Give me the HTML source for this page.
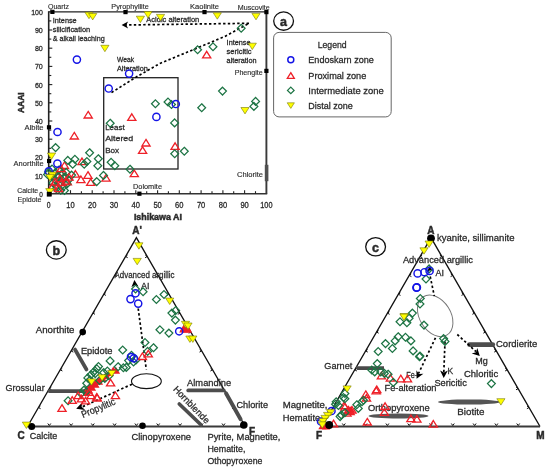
<!DOCTYPE html>
<html><head><meta charset="utf-8"><title>Alteration diagrams</title>
<style>
html,body{margin:0;padding:0;background:#fff;width:550px;height:470px;overflow:hidden}
svg{display:block}
text{font-family:"Liberation Sans", Arial, sans-serif;fill:#2a2a2a;stroke:#2a2a2a;stroke-width:0.28px}
.ci{fill:none;stroke:#1414e6;stroke-width:1.45}
.tr{fill:none;stroke:#ee2028;stroke-width:1.3;stroke-linejoin:miter}
.di{fill:none;stroke:#1d7444;stroke-width:1.25}
.yt{fill:#ffff00;stroke:#77770a;stroke-width:0.6}
</style></head>
<body>
<svg width="550" height="470" viewBox="0 0 550 470">
<rect width="550" height="470" fill="#fff"/>
<line x1="48.7" y1="11.8" x2="266.4" y2="11.8" stroke="#222" stroke-width="1.3" />
<line x1="266.4" y1="11.8" x2="266.4" y2="193.8" stroke="#3a3a3a" stroke-width="1.9" />
<line x1="48.7" y1="11.2" x2="48.7" y2="194.4" stroke="#222" stroke-width="1.6" />
<line x1="48.1" y1="193.8" x2="267.2" y2="193.8" stroke="#333" stroke-width="1.6" />
<line x1="48.7" y1="184.7" x2="51.3" y2="184.7" stroke="#222" stroke-width="1.1" />
<line x1="59.6" y1="193.8" x2="59.6" y2="191.2" stroke="#222" stroke-width="1.1" />
<line x1="48.7" y1="175.6" x2="52.3" y2="175.6" stroke="#222" stroke-width="1.1" />
<line x1="70.5" y1="193.8" x2="70.5" y2="190.2" stroke="#222" stroke-width="1.1" />
<line x1="48.7" y1="166.5" x2="51.3" y2="166.5" stroke="#222" stroke-width="1.1" />
<line x1="81.4" y1="193.8" x2="81.4" y2="191.2" stroke="#222" stroke-width="1.1" />
<line x1="48.7" y1="157.4" x2="52.3" y2="157.4" stroke="#222" stroke-width="1.1" />
<line x1="92.2" y1="193.8" x2="92.2" y2="190.2" stroke="#222" stroke-width="1.1" />
<line x1="48.7" y1="148.3" x2="51.3" y2="148.3" stroke="#222" stroke-width="1.1" />
<line x1="103.1" y1="193.8" x2="103.1" y2="191.2" stroke="#222" stroke-width="1.1" />
<line x1="48.7" y1="139.2" x2="52.3" y2="139.2" stroke="#222" stroke-width="1.1" />
<line x1="114.0" y1="193.8" x2="114.0" y2="190.2" stroke="#222" stroke-width="1.1" />
<line x1="48.7" y1="130.1" x2="51.3" y2="130.1" stroke="#222" stroke-width="1.1" />
<line x1="124.9" y1="193.8" x2="124.9" y2="191.2" stroke="#222" stroke-width="1.1" />
<line x1="48.7" y1="121.0" x2="52.3" y2="121.0" stroke="#222" stroke-width="1.1" />
<line x1="135.8" y1="193.8" x2="135.8" y2="190.2" stroke="#222" stroke-width="1.1" />
<line x1="48.7" y1="111.9" x2="51.3" y2="111.9" stroke="#222" stroke-width="1.1" />
<line x1="146.7" y1="193.8" x2="146.7" y2="191.2" stroke="#222" stroke-width="1.1" />
<line x1="48.7" y1="102.8" x2="52.3" y2="102.8" stroke="#222" stroke-width="1.1" />
<line x1="157.6" y1="193.8" x2="157.6" y2="190.2" stroke="#222" stroke-width="1.1" />
<line x1="48.7" y1="93.7" x2="51.3" y2="93.7" stroke="#222" stroke-width="1.1" />
<line x1="168.4" y1="193.8" x2="168.4" y2="191.2" stroke="#222" stroke-width="1.1" />
<line x1="48.7" y1="84.6" x2="52.3" y2="84.6" stroke="#222" stroke-width="1.1" />
<line x1="179.3" y1="193.8" x2="179.3" y2="190.2" stroke="#222" stroke-width="1.1" />
<line x1="48.7" y1="75.5" x2="51.3" y2="75.5" stroke="#222" stroke-width="1.1" />
<line x1="190.2" y1="193.8" x2="190.2" y2="191.2" stroke="#222" stroke-width="1.1" />
<line x1="48.7" y1="66.4" x2="52.3" y2="66.4" stroke="#222" stroke-width="1.1" />
<line x1="201.1" y1="193.8" x2="201.1" y2="190.2" stroke="#222" stroke-width="1.1" />
<line x1="48.7" y1="57.3" x2="51.3" y2="57.3" stroke="#222" stroke-width="1.1" />
<line x1="212.0" y1="193.8" x2="212.0" y2="191.2" stroke="#222" stroke-width="1.1" />
<line x1="48.7" y1="48.2" x2="52.3" y2="48.2" stroke="#222" stroke-width="1.1" />
<line x1="222.9" y1="193.8" x2="222.9" y2="190.2" stroke="#222" stroke-width="1.1" />
<line x1="48.7" y1="39.1" x2="51.3" y2="39.1" stroke="#222" stroke-width="1.1" />
<line x1="233.7" y1="193.8" x2="233.7" y2="191.2" stroke="#222" stroke-width="1.1" />
<line x1="48.7" y1="30.0" x2="52.3" y2="30.0" stroke="#222" stroke-width="1.1" />
<line x1="244.6" y1="193.8" x2="244.6" y2="190.2" stroke="#222" stroke-width="1.1" />
<line x1="48.7" y1="20.9" x2="51.3" y2="20.9" stroke="#222" stroke-width="1.1" />
<line x1="255.5" y1="193.8" x2="255.5" y2="191.2" stroke="#222" stroke-width="1.1" />
<text x="42.8" y="196.8" font-size="8.0" text-anchor="end" textLength="3.6" lengthAdjust="spacingAndGlyphs">0</text>
<text x="48.7" y="207.5" font-size="8.2" text-anchor="middle" textLength="3.8" lengthAdjust="spacingAndGlyphs">0</text>
<text x="42.8" y="178.6" font-size="8.0" text-anchor="end" textLength="7.9" lengthAdjust="spacingAndGlyphs">10</text>
<text x="70.5" y="207.5" font-size="8.2" text-anchor="middle" textLength="8.4" lengthAdjust="spacingAndGlyphs">10</text>
<text x="42.8" y="160.4" font-size="8.0" text-anchor="end" textLength="7.9" lengthAdjust="spacingAndGlyphs">20</text>
<text x="92.2" y="207.5" font-size="8.2" text-anchor="middle" textLength="8.4" lengthAdjust="spacingAndGlyphs">20</text>
<text x="42.8" y="142.2" font-size="8.0" text-anchor="end" textLength="7.9" lengthAdjust="spacingAndGlyphs">30</text>
<text x="114.0" y="207.5" font-size="8.2" text-anchor="middle" textLength="8.4" lengthAdjust="spacingAndGlyphs">30</text>
<text x="42.8" y="124.0" font-size="8.0" text-anchor="end" textLength="7.9" lengthAdjust="spacingAndGlyphs">40</text>
<text x="135.8" y="207.5" font-size="8.2" text-anchor="middle" textLength="8.4" lengthAdjust="spacingAndGlyphs">40</text>
<text x="42.8" y="105.8" font-size="8.0" text-anchor="end" textLength="7.9" lengthAdjust="spacingAndGlyphs">50</text>
<text x="157.6" y="207.5" font-size="8.2" text-anchor="middle" textLength="8.4" lengthAdjust="spacingAndGlyphs">50</text>
<text x="42.8" y="87.6" font-size="8.0" text-anchor="end" textLength="7.9" lengthAdjust="spacingAndGlyphs">60</text>
<text x="179.3" y="207.5" font-size="8.2" text-anchor="middle" textLength="8.4" lengthAdjust="spacingAndGlyphs">60</text>
<text x="42.8" y="69.4" font-size="8.0" text-anchor="end" textLength="7.9" lengthAdjust="spacingAndGlyphs">70</text>
<text x="201.1" y="207.5" font-size="8.2" text-anchor="middle" textLength="8.4" lengthAdjust="spacingAndGlyphs">70</text>
<text x="42.8" y="51.2" font-size="8.0" text-anchor="end" textLength="7.9" lengthAdjust="spacingAndGlyphs">80</text>
<text x="222.9" y="207.5" font-size="8.2" text-anchor="middle" textLength="8.4" lengthAdjust="spacingAndGlyphs">80</text>
<text x="42.8" y="33.0" font-size="8.0" text-anchor="end" textLength="7.9" lengthAdjust="spacingAndGlyphs">90</text>
<text x="244.6" y="207.5" font-size="8.2" text-anchor="middle" textLength="8.4" lengthAdjust="spacingAndGlyphs">90</text>
<text x="42.8" y="14.8" font-size="8.0" text-anchor="end" textLength="11.6" lengthAdjust="spacingAndGlyphs">100</text>
<text x="266.4" y="207.5" font-size="8.2" text-anchor="middle" textLength="12.2" lengthAdjust="spacingAndGlyphs">100</text>
<text x="157.9" y="219.7" font-size="8.6" text-anchor="middle" font-weight="bold" style="stroke-width:0.45px" textLength="48.0" lengthAdjust="spacingAndGlyphs" fill="#111">Ishikawa AI</text>
<text x="21.2" y="105.6" font-size="8.6" text-anchor="middle" font-weight="bold" style="stroke-width:0.45px" textLength="20.8" lengthAdjust="spacingAndGlyphs" transform="rotate(-90 21.2 102.7)" fill="#111">AAAI</text>
<rect x="50.3" y="9.8" width="4.2" height="4.2" fill="#000"/>
<rect x="123.4" y="10.0" width="4.2" height="4.2" fill="#000"/>
<rect x="202.4" y="10.0" width="4.2" height="4.2" fill="#000"/>
<rect x="264.3" y="10.0" width="4.2" height="4.2" fill="#000"/>
<rect x="264.3" y="68.8" width="4.2" height="4.2" fill="#000"/>
<rect x="46.9" y="125.2" width="4.2" height="4.2" fill="#000"/>
<rect x="47.0" y="158.9" width="4.2" height="4.2" fill="#000"/>
<rect x="47.2" y="191.8" width="4.2" height="4.2" fill="#000"/>
<rect x="137.3" y="191.6" width="4.2" height="4.2" fill="#000"/>
<line x1="266.6" y1="164.8" x2="266.6" y2="181.2" stroke="#505050" stroke-width="3.6" />
<text x="48.0" y="8.5" font-size="6.3" style="stroke-width:0.12px" textLength="21.0" lengthAdjust="spacingAndGlyphs">Quartz</text>
<text x="111.3" y="8.5" font-size="6.3" style="stroke-width:0.12px" textLength="37.5" lengthAdjust="spacingAndGlyphs">Pyrophyllite</text>
<text x="190.0" y="8.7" font-size="6.3" style="stroke-width:0.12px" textLength="29.0" lengthAdjust="spacingAndGlyphs">Kaolinite</text>
<text x="237.8" y="9.5" font-size="6.3" style="stroke-width:0.12px" textLength="32.0" lengthAdjust="spacingAndGlyphs">Muscovite</text>
<text x="262.7" y="75.1" font-size="6.3" style="stroke-width:0.12px" text-anchor="end" textLength="28.0" lengthAdjust="spacingAndGlyphs">Phengite</text>
<text x="43.6" y="130.1" font-size="6.3" style="stroke-width:0.12px" text-anchor="end" textLength="19.0" lengthAdjust="spacingAndGlyphs">Albite</text>
<text x="43.6" y="166.1" font-size="6.3" style="stroke-width:0.12px" text-anchor="end" textLength="30.0" lengthAdjust="spacingAndGlyphs">Anorthite</text>
<text x="38.2" y="193.0" font-size="6.3" style="stroke-width:0.12px" text-anchor="end" textLength="21.0" lengthAdjust="spacingAndGlyphs">Calcite</text>
<text x="41.5" y="202.1" font-size="6.3" style="stroke-width:0.12px" text-anchor="end" textLength="24.0" lengthAdjust="spacingAndGlyphs">Epidote</text>
<text x="263.0" y="177.3" font-size="6.3" style="stroke-width:0.12px" text-anchor="end" textLength="26.0" lengthAdjust="spacingAndGlyphs">Chlorite</text>
<text x="133.0" y="189.1" font-size="6.3" style="stroke-width:0.12px" textLength="29.0" lengthAdjust="spacingAndGlyphs">Dolomite</text>
<text x="52.7" y="22.5" font-size="7.4" textLength="24.0" lengthAdjust="spacingAndGlyphs">Intense</text>
<text x="52.7" y="31.7" font-size="7.4" textLength="37.5" lengthAdjust="spacingAndGlyphs">silicification</text>
<text x="52.7" y="41.0" font-size="7.4" textLength="52.0" lengthAdjust="spacingAndGlyphs">&amp; alkali leaching</text>
<text x="146.3" y="22.4" font-size="7.4" textLength="53.0" lengthAdjust="spacingAndGlyphs">Acidic alteration</text>
<text x="117.0" y="61.8" font-size="7.4" textLength="17.0" lengthAdjust="spacingAndGlyphs">Weak</text>
<text x="116.9" y="70.8" font-size="7.4" textLength="31.0" lengthAdjust="spacingAndGlyphs">Alteration</text>
<text x="226.6" y="44.7" font-size="7.4" textLength="24.0" lengthAdjust="spacingAndGlyphs">Intense</text>
<text x="226.6" y="53.9" font-size="7.4" textLength="25.0" lengthAdjust="spacingAndGlyphs">sericitic</text>
<text x="226.6" y="63.0" font-size="7.4" textLength="30.0" lengthAdjust="spacingAndGlyphs">alteration</text>
<text x="105.2" y="130.2" font-size="8.0" textLength="19.5" lengthAdjust="spacingAndGlyphs">Least</text>
<text x="105.2" y="141.4" font-size="8.0" textLength="28.0" lengthAdjust="spacingAndGlyphs">Altered</text>
<text x="105.2" y="152.9" font-size="8.0" textLength="14.0" lengthAdjust="spacingAndGlyphs">Box</text>
<rect x="103.7" y="77.7" width="74.3" height="91.3" fill="none" stroke="#222" stroke-width="1.3"/>
<polyline points="111.5,92.6 137,76.6 160,63.4 192,50.2 225,36.4 249,23.3" fill="none" stroke="#000" stroke-width="1.7" stroke-dasharray="2.4 2.3"/>
<line x1="249.0" y1="23.3" x2="124.5" y2="25.0" stroke="#000" stroke-width="1.7" stroke-dasharray="2.4 2.3"/>
<polygon points="121.6,25.0 128.1,21.6 126.3,25.0 128.1,28.4" fill="#000"/>
<polygon points="88.2,111.4 92.3,118.0 84.1,118.0" class="tr"/>
<polygon points="74.3,132.4 78.4,139.0 70.2,139.0" class="tr"/>
<polygon points="206.7,51.3 210.8,57.9 202.6,57.9" class="tr"/>
<polygon points="131.8,113.8 135.9,120.4 127.7,120.4" class="tr"/>
<polygon points="175.1,142.8 179.2,149.4 171.0,149.4" class="tr"/>
<polygon points="146.0,139.4 150.1,146.0 141.9,146.0" class="tr"/>
<polygon points="142.6,146.8 146.7,153.4 138.5,153.4" class="tr"/>
<polygon points="134.3,170.1 138.4,176.7 130.2,176.7" class="tr"/>
<polygon points="82.0,158.1 86.1,164.7 77.9,164.7" class="tr"/>
<polygon points="64.5,161.9 68.6,168.5 60.4,168.5" class="tr"/>
<polygon points="75.4,170.6 79.5,177.2 71.3,177.2" class="tr"/>
<polygon points="88.0,171.7 92.1,178.3 83.9,178.3" class="tr"/>
<polygon points="80.9,176.0 85.0,182.6 76.8,182.6" class="tr"/>
<polygon points="90.7,178.8 94.8,185.4 86.6,185.4" class="tr"/>
<polygon points="106.0,174.5 110.1,181.1 101.9,181.1" class="tr"/>
<polygon points="67.3,178.2 71.4,184.8 63.2,184.8" class="tr"/>
<polygon points="57.0,171.6 61.1,178.2 52.9,178.2" class="tr"/>
<polygon points="64.0,173.1 68.1,179.7 59.9,179.7" class="tr"/>
<polygon points="213.0,42.9 216.9,46.8 213.0,50.7 209.1,46.8" class="di"/>
<polygon points="197.6,45.9 201.5,49.8 197.6,53.7 193.7,49.8" class="di"/>
<polygon points="241.2,24.4 245.1,28.3 241.2,32.2 237.3,28.3" class="di"/>
<polygon points="222.5,87.2 226.4,91.1 222.5,95.0 218.6,91.1" class="di"/>
<polygon points="201.7,103.8 205.6,107.7 201.7,111.6 197.8,107.7" class="di"/>
<polygon points="255.6,97.5 259.5,101.4 255.6,105.3 251.7,101.4" class="di"/>
<polygon points="253.9,102.5 257.8,106.4 253.9,110.3 250.0,106.4" class="di"/>
<polygon points="155.4,99.9 159.3,103.8 155.4,107.7 151.5,103.8" class="di"/>
<polygon points="168.0,98.1 171.9,102.0 168.0,105.9 164.1,102.0" class="di"/>
<polygon points="171.5,100.6 175.4,104.5 171.5,108.4 167.6,104.5" class="di"/>
<polygon points="174.6,119.0 178.5,122.9 174.6,126.8 170.7,122.9" class="di"/>
<polygon points="174.7,149.9 178.6,153.8 174.7,157.7 170.8,153.8" class="di"/>
<polygon points="184.3,147.3 188.2,151.2 184.3,155.1 180.4,151.2" class="di"/>
<polygon points="110.2,119.3 114.1,123.2 110.2,127.1 106.3,123.2" class="di"/>
<polygon points="55.6,143.7 59.5,147.6 55.6,151.5 51.7,147.6" class="di"/>
<polygon points="89.6,148.8 93.5,152.7 89.6,156.6 85.7,152.7" class="di"/>
<polygon points="67.8,156.5 71.7,160.4 67.8,164.3 63.9,160.4" class="di"/>
<polygon points="74.9,155.4 78.8,159.3 74.9,163.2 71.0,159.3" class="di"/>
<polygon points="72.7,160.3 76.6,164.2 72.7,168.1 68.8,164.2" class="di"/>
<polygon points="86.9,157.6 90.8,161.5 86.9,165.4 83.0,161.5" class="di"/>
<polygon points="84.2,160.3 88.1,164.2 84.2,168.1 80.3,164.2" class="di"/>
<polygon points="98.3,154.8 102.2,158.7 98.3,162.6 94.4,158.7" class="di"/>
<polygon points="97.8,161.9 101.7,165.8 97.8,169.7 93.9,165.8" class="di"/>
<polygon points="111.1,158.4 115.0,162.3 111.1,166.2 107.2,162.3" class="di"/>
<polygon points="114.8,161.9 118.7,165.8 114.8,169.7 110.9,165.8" class="di"/>
<polygon points="130.0,165.3 133.9,169.2 130.0,173.1 126.1,169.2" class="di"/>
<polygon points="103.5,171.5 107.4,175.4 103.5,179.3 99.6,175.4" class="di"/>
<polygon points="96.7,177.7 100.6,181.6 96.7,185.5 92.8,181.6" class="di"/>
<polygon points="71.6,171.2 75.5,175.1 71.6,179.0 67.7,175.1" class="di"/>
<polygon points="66.2,168.5 70.1,172.4 66.2,176.3 62.3,172.4" class="di"/>
<polygon points="48.5,168.1 52.4,172.0 48.5,175.9 44.6,172.0" class="di"/>
<polygon points="52.0,165.1 55.9,169.0 52.0,172.9 48.1,169.0" class="di"/>
<polygon points="55.5,168.6 59.4,172.5 55.5,176.4 51.6,172.5" class="di"/>
<polygon points="59.0,166.1 62.9,170.0 59.0,173.9 55.1,170.0" class="di"/>
<polygon points="62.5,169.1 66.4,173.0 62.5,176.9 58.6,173.0" class="di"/>
<polygon points="51.0,172.1 54.9,176.0 51.0,179.9 47.1,176.0" class="di"/>
<polygon points="54.5,175.1 58.4,179.0 54.5,182.9 50.6,179.0" class="di"/>
<polygon points="58.0,172.6 61.9,176.5 58.0,180.4 54.1,176.5" class="di"/>
<polygon points="61.5,175.6 65.4,179.5 61.5,183.4 57.6,179.5" class="di"/>
<polygon points="65.0,173.1 68.9,177.0 65.0,180.9 61.1,177.0" class="di"/>
<polygon points="68.5,176.1 72.4,180.0 68.5,183.9 64.6,180.0" class="di"/>
<polygon points="53.0,179.1 56.9,183.0 53.0,186.9 49.1,183.0" class="di"/>
<polygon points="56.5,182.1 60.4,186.0 56.5,189.9 52.6,186.0" class="di"/>
<polygon points="60.0,179.6 63.9,183.5 60.0,187.4 56.1,183.5" class="di"/>
<polygon points="63.5,182.6 67.4,186.5 63.5,190.4 59.6,186.5" class="di"/>
<polygon points="67.0,180.1 70.9,184.0 67.0,187.9 63.1,184.0" class="di"/>
<polygon points="56.4,184.8 60.3,188.7 56.4,192.6 52.5,188.7" class="di"/>
<polygon points="60.7,186.4 64.6,190.3 60.7,194.2 56.8,190.3" class="di"/>
<polygon points="64.5,186.6 68.4,190.5 64.5,194.4 60.6,190.5" class="di"/>
<polygon points="47.5,170.6 51.4,174.5 47.5,178.4 43.6,174.5" class="di"/>
<polygon points="69.0,173.6 73.1,180.2 64.9,180.2" class="tr"/>
<polygon points="55.0,178.6 59.1,185.2 50.9,185.2" class="tr"/>
<polygon points="61.5,179.1 65.6,185.7 57.4,185.7" class="tr"/>
<polygon points="58.5,185.1 62.6,191.7 54.4,191.7" class="tr"/>
<polygon points="52.5,183.1 56.6,189.7 48.4,189.7" class="tr"/>
<polygon points="61.0,165.1 65.1,171.7 56.9,171.7" class="tr"/>
<polygon points="60.0,175.1 64.1,181.7 55.9,181.7" class="tr"/>
<polygon points="66.0,177.6 70.1,184.2 61.9,184.2" class="tr"/>
<circle cx="76.9" cy="59.6" r="3.6" class="ci"/>
<circle cx="129.1" cy="73.6" r="3.6" class="ci"/>
<circle cx="108.7" cy="88.5" r="3.6" class="ci"/>
<circle cx="156.4" cy="116.9" r="3.6" class="ci"/>
<circle cx="175.8" cy="104.0" r="3.6" class="ci"/>
<circle cx="57.5" cy="132.0" r="3.6" class="ci"/>
<circle cx="57.4" cy="163.6" r="3.6" class="ci"/>
<circle cx="48.7" cy="171.3" r="3.6" class="ci"/>
<polygon points="84.9,12.3 93.1,12.3 89.0,18.7" class="yt"/>
<polygon points="88.6,13.5 96.8,13.5 92.7,19.9" class="yt"/>
<polygon points="100.8,45.3 109.0,45.3 104.9,51.7" class="yt"/>
<polygon points="143.9,11.6 152.1,11.6 148.0,18.0" class="yt"/>
<polygon points="136.3,16.2 144.5,16.2 140.4,22.6" class="yt"/>
<polygon points="156.4,14.4 164.6,14.4 160.5,20.8" class="yt"/>
<polygon points="213.2,12.8 221.4,12.8 217.3,19.2" class="yt"/>
<polygon points="251.9,13.4 260.1,13.4 256.0,19.8" class="yt"/>
<polygon points="248.2,43.2 256.4,43.2 252.3,49.6" class="yt"/>
<polygon points="240.9,107.5 249.1,107.5 245.0,113.9" class="yt"/>
<polygon points="47.4,153.0 55.6,153.0 51.5,159.4" class="yt"/>
<polygon points="48.2,172.1 56.4,172.1 52.3,178.5" class="yt"/>
<polygon points="45.8,174.4 54.0,174.4 49.9,180.8" class="yt"/>
<polygon points="45.7,188.6 53.9,188.6 49.8,195.0" class="yt"/>
<rect x="46.8" y="191.8" width="4.8" height="4.8" fill="#000"/>
<ellipse cx="283.6" cy="21.1" rx="9.9" ry="9.15" fill="none" stroke="#111" stroke-width="1.3"/>
<text x="283.6" y="26.1" font-size="12.5" text-anchor="middle" font-weight="bold" style="stroke-width:0.45px" fill="#000">a</text>
<rect x="273.6" y="32.4" width="117.6" height="84.5" rx="5.5" fill="none" stroke="#666" stroke-width="1"/>
<text x="332.2" y="47.9" font-size="9.6" text-anchor="middle" textLength="29.0" lengthAdjust="spacingAndGlyphs">Legend</text>
<circle cx="290.8" cy="59.8" r="3.0" class="ci"/>
<text x="308.3" y="63.1" font-size="9.6" textLength="65.5" lengthAdjust="spacingAndGlyphs">Endoskarn zone</text>
<polygon points="290.8,72.7 294.3,78.3 287.3,78.3" class="tr"/>
<text x="308.3" y="78.5" font-size="9.6" textLength="58.0" lengthAdjust="spacingAndGlyphs">Proximal zone</text>
<polygon points="290.8,87.1 294.1,90.4 290.8,93.7 287.5,90.4" class="di"/>
<text x="308.3" y="93.7" font-size="9.6" textLength="75.5" lengthAdjust="spacingAndGlyphs">Intermediate zone</text>
<polygon points="287.2,102.8 294.4,102.8 290.8,108.4" class="yt"/>
<text x="308.3" y="108.8" font-size="9.6" textLength="44.5" lengthAdjust="spacingAndGlyphs">Distal zone</text>
<polyline points="27.5,426.5 136.4,237.7 245.3,426.5" fill="none" stroke="#111" stroke-width="1.35"/>
<line x1="27.5" y1="426.5" x2="245.3" y2="426.5" stroke="#3a3a3a" stroke-width="2.2" />
<polyline points="40.4,406.1 38.6,407.6 40.6,408.7" fill="none" stroke="#111" stroke-width="1.0"/>
<polyline points="232.4,406.1 234.2,407.6 232.2,408.7" fill="none" stroke="#111" stroke-width="1.0"/>
<polyline points="47.8,423.5 49.3,425.5 50.8,423.5" fill="none" stroke="#111" stroke-width="1.0"/>
<polyline points="51.3,387.2 49.5,388.7 51.5,389.8" fill="none" stroke="#111" stroke-width="1.0"/>
<polyline points="221.5,387.2 223.3,388.7 221.3,389.8" fill="none" stroke="#111" stroke-width="1.0"/>
<polyline points="69.6,423.5 71.1,425.5 72.6,423.5" fill="none" stroke="#111" stroke-width="1.0"/>
<polyline points="62.2,368.4 60.4,369.9 62.4,371.0" fill="none" stroke="#111" stroke-width="1.0"/>
<polyline points="210.6,368.4 212.4,369.9 210.4,371.0" fill="none" stroke="#111" stroke-width="1.0"/>
<polyline points="91.3,423.5 92.8,425.5 94.3,423.5" fill="none" stroke="#111" stroke-width="1.0"/>
<polyline points="73.1,349.5 71.3,351.0 73.3,352.1" fill="none" stroke="#111" stroke-width="1.0"/>
<polyline points="199.7,349.5 201.5,351.0 199.5,352.1" fill="none" stroke="#111" stroke-width="1.0"/>
<polyline points="113.1,423.5 114.6,425.5 116.1,423.5" fill="none" stroke="#111" stroke-width="1.0"/>
<polyline points="84.0,330.6 82.2,332.1 84.2,333.2" fill="none" stroke="#111" stroke-width="1.0"/>
<polyline points="188.9,330.6 190.7,332.1 188.7,333.2" fill="none" stroke="#111" stroke-width="1.0"/>
<polyline points="134.9,423.5 136.4,425.5 137.9,423.5" fill="none" stroke="#111" stroke-width="1.0"/>
<polyline points="94.8,311.7 93.0,313.2 95.0,314.3" fill="none" stroke="#111" stroke-width="1.0"/>
<polyline points="178.0,311.7 179.8,313.2 177.8,314.3" fill="none" stroke="#111" stroke-width="1.0"/>
<polyline points="156.7,423.5 158.2,425.5 159.7,423.5" fill="none" stroke="#111" stroke-width="1.0"/>
<polyline points="105.7,292.8 103.9,294.3 105.9,295.4" fill="none" stroke="#111" stroke-width="1.0"/>
<polyline points="167.1,292.8 168.9,294.3 166.9,295.4" fill="none" stroke="#111" stroke-width="1.0"/>
<polyline points="178.5,423.5 180.0,425.5 181.5,423.5" fill="none" stroke="#111" stroke-width="1.0"/>
<polyline points="116.6,274.0 114.8,275.5 116.8,276.6" fill="none" stroke="#111" stroke-width="1.0"/>
<polyline points="156.2,274.0 158.0,275.5 156.0,276.6" fill="none" stroke="#111" stroke-width="1.0"/>
<polyline points="200.2,423.5 201.7,425.5 203.2,423.5" fill="none" stroke="#111" stroke-width="1.0"/>
<polyline points="127.5,255.1 125.7,256.6 127.7,257.7" fill="none" stroke="#111" stroke-width="1.0"/>
<polyline points="145.3,255.1 147.1,256.6 145.1,257.7" fill="none" stroke="#111" stroke-width="1.0"/>
<polyline points="222.0,423.5 223.5,425.5 225.0,423.5" fill="none" stroke="#111" stroke-width="1.0"/>
<ellipse cx="56.3" cy="249.9" rx="9.9" ry="9.15" fill="none" stroke="#111" stroke-width="1.3"/>
<text x="56.3" y="254.8" font-size="12.5" text-anchor="middle" font-weight="bold" style="stroke-width:0.45px" fill="#000">b</text>
<text x="137.1" y="233.8" font-size="10" text-anchor="middle" font-weight="bold" style="stroke-width:0.45px" fill="#000">A'</text>
<text x="21.0" y="439.3" font-size="10" text-anchor="middle" font-weight="bold" style="stroke-width:0.45px" fill="#000">C</text>
<text x="252.0" y="435.4" font-size="10" text-anchor="middle" font-weight="bold" style="stroke-width:0.45px" fill="#000">F</text>
<line x1="49.4" y1="391.1" x2="84.9" y2="391.1" stroke="#4d4d4d" stroke-width="3.7" stroke-linecap="round"/>
<line x1="75.0" y1="349.5" x2="86.5" y2="369.5" stroke="#4d4d4d" stroke-width="3.7" stroke-linecap="round"/>
<line x1="188.2" y1="390.4" x2="223.8" y2="390.4" stroke="#4d4d4d" stroke-width="3.7" stroke-linecap="round"/>
<line x1="226.0" y1="393.2" x2="240.6" y2="419.2" stroke="#4d4d4d" stroke-width="3.9" stroke-linecap="round"/>
<line x1="179.3" y1="404.0" x2="201.2" y2="425.0" stroke="#4d4d4d" stroke-width="3.7" stroke-linecap="round"/>
<ellipse cx="146.4" cy="381.2" rx="14.9" ry="7.4" fill="none" stroke="#111" stroke-width="1.1"/>
<line x1="138.2" y1="308.5" x2="146.3" y2="369.5" stroke="#000" stroke-width="1.7" stroke-dasharray="2.4 2.3"/>
<line x1="132.0" y1="384.2" x2="81.5" y2="407.2" stroke="#000" stroke-width="1.7" stroke-dasharray="2.4 2.3"/>
<polygon points="76.2,408.8 82.3,402.2 81.6,406.8 85.1,410.0" fill="#000"/>
<polygon points="134.4,280.0 138.6,286.7 134.8,285.0 131.4,287.3" fill="#000"/>
<text x="35.8" y="333.2" font-size="9.3" textLength="38.7" lengthAdjust="spacingAndGlyphs">Anorthite</text>
<text x="80.9" y="354.1" font-size="9.3" textLength="31.6" lengthAdjust="spacingAndGlyphs">Epidote</text>
<text x="5.4" y="390.8" font-size="9.3" textLength="39.3" lengthAdjust="spacingAndGlyphs">Grossular</text>
<text x="114.5" y="277.8" font-size="9.3" textLength="60.0" lengthAdjust="spacingAndGlyphs">Advanced argillic</text>
<text x="141.0" y="288.7" font-size="9.3" textLength="8.5" lengthAdjust="spacingAndGlyphs">AI</text>
<text x="187.1" y="386.0" font-size="9.3" textLength="44.0" lengthAdjust="spacingAndGlyphs">Almandine</text>
<text x="236.5" y="407.7" font-size="9.3" textLength="31.5" lengthAdjust="spacingAndGlyphs">Chlorite</text>
<text x="191.6" y="407.9" font-size="9.3" text-anchor="middle" textLength="48.0" lengthAdjust="spacingAndGlyphs" transform="rotate(46 191.6 404.7)">Hornblende</text>
<text x="98.2" y="411.3" font-size="9.8" text-anchor="middle" textLength="36.0" lengthAdjust="spacingAndGlyphs" transform="rotate(-23 98.2 408.0)">Propylitic</text>
<text x="29.8" y="439.1" font-size="9.3" textLength="27.5" lengthAdjust="spacingAndGlyphs">Calcite</text>
<text x="131.5" y="439.7" font-size="9.3" textLength="59.5" lengthAdjust="spacingAndGlyphs">Clinopyroxene</text>
<text x="207.4" y="439.6" font-size="9.3" textLength="73.0" lengthAdjust="spacingAndGlyphs">Pyrite, Magnetite,</text>
<text x="207.4" y="452.2" font-size="9.3" textLength="38.0" lengthAdjust="spacingAndGlyphs">Hematite,</text>
<text x="207.4" y="464.4" font-size="9.3" textLength="55.0" lengthAdjust="spacingAndGlyphs">Othopyroxene</text>
<circle cx="31.7" cy="426.4" r="3.5" fill="#000"/>
<circle cx="82.7" cy="332.1" r="3.3" fill="#000"/>
<circle cx="142.5" cy="425.8" r="3.3" fill="#000"/>
<circle cx="243.8" cy="425.0" r="3.8" fill="#000"/>
<polygon points="85,394 96,386.5 106,379 113,373.5 117.5,371.5 115,369 108,372 98,378.5 89,385 84.5,390" fill="#ee1c24"/>
<polygon points="113.3,366.5 117.4,373.1 109.2,373.1" fill="#ee1c24"/>
<polygon points="110.0,369.1 114.1,375.7 105.9,375.7" fill="#ee1c24"/>
<polygon points="106.0,372.1 110.1,378.7 101.9,378.7" fill="#ee1c24"/>
<polygon points="102.5,375.1 106.6,381.7 98.4,381.7" fill="#ee1c24"/>
<polygon points="99.0,378.1 103.1,384.7 94.9,384.7" fill="#ee1c24"/>
<polygon points="95.5,381.1 99.6,387.7 91.4,387.7" fill="#ee1c24"/>
<polygon points="92.0,384.1 96.1,390.7 87.9,390.7" fill="#ee1c24"/>
<polygon points="89.0,386.6 93.1,393.2 84.9,393.2" fill="#ee1c24"/>
<polygon points="86.5,389.1 90.6,395.7 82.4,395.7" fill="#ee1c24"/>
<polygon points="116.0,367.1 120.1,373.7 111.9,373.7" fill="#ee1c24"/>
<polygon points="184.0,325.4 188.1,332.0 179.9,332.0" fill="#ee1c24"/>
<polygon points="187.5,324.9 191.6,331.5 183.4,331.5" fill="#ee1c24"/>
<polygon points="135.5,285.1 139.4,289.0 135.5,292.9 131.6,289.0" class="di"/>
<polygon points="143.1,287.9 147.0,291.8 143.1,295.7 139.2,291.8" class="di"/>
<polygon points="156.4,295.6 160.3,299.5 156.4,303.4 152.5,299.5" class="di"/>
<polygon points="164.0,290.6 167.9,294.5 164.0,298.4 160.1,294.5" class="di"/>
<polygon points="171.9,309.2 175.8,313.1 171.9,317.0 168.0,313.1" class="di"/>
<polygon points="175.7,306.6 179.6,310.5 175.7,314.4 171.8,310.5" class="di"/>
<polygon points="175.4,316.2 179.3,320.1 175.4,324.0 171.5,320.1" class="di"/>
<polygon points="159.9,325.9 163.8,329.8 159.9,333.7 156.0,329.8" class="di"/>
<polygon points="168.9,329.2 172.8,333.1 168.9,337.0 165.0,333.1" class="di"/>
<polygon points="145.0,338.6 148.9,342.5 145.0,346.4 141.1,342.5" class="di"/>
<polygon points="153.5,343.8 157.4,347.7 153.5,351.6 149.6,347.7" class="di"/>
<polygon points="147.6,347.5 151.5,351.4 147.6,355.3 143.7,351.4" class="di"/>
<polygon points="122.7,346.1 126.6,350.0 122.7,353.9 118.8,350.0" class="di"/>
<polygon points="128.6,356.7 132.5,360.6 128.6,364.5 124.7,360.6" class="di"/>
<polygon points="131.5,351.4 135.4,355.3 131.5,359.2 127.6,355.3" class="di"/>
<polygon points="126.3,363.5 130.2,367.4 126.3,371.3 122.4,367.4" class="di"/>
<polygon points="68.1,396.9 72.0,400.8 68.1,404.7 64.2,400.8" class="di"/>
<polygon points="110.1,357.0 114.0,360.9 110.1,364.8 106.2,360.9" class="di"/>
<polygon points="118.1,362.8 122.0,366.7 118.1,370.6 114.2,366.7" class="di"/>
<polygon points="96.8,364.9 100.7,368.8 96.8,372.7 92.9,368.8" class="di"/>
<polygon points="93.6,368.1 97.5,372.0 93.6,375.9 89.7,372.0" class="di"/>
<polygon points="91.0,370.8 94.9,374.7 91.0,378.6 87.1,374.7" class="di"/>
<polygon points="95.2,369.7 99.1,373.6 95.2,377.5 91.3,373.6" class="di"/>
<polygon points="103.7,368.7 107.6,372.6 103.7,376.5 99.8,372.6" class="di"/>
<polygon points="107.4,367.1 111.3,371.0 107.4,374.9 103.5,371.0" class="di"/>
<polygon points="109.0,371.8 112.9,375.7 109.0,379.6 105.1,375.7" class="di"/>
<polygon points="87.8,374.0 91.7,377.9 87.8,381.8 83.9,377.9" class="di"/>
<polygon points="86.7,379.3 90.6,383.2 86.7,387.1 82.8,383.2" class="di"/>
<polygon points="84.0,386.2 87.9,390.1 84.0,394.0 80.1,390.1" class="di"/>
<polygon points="86.2,387.8 90.1,391.7 86.2,395.6 82.3,391.7" class="di"/>
<polygon points="99.5,376.6 103.4,380.5 99.5,384.4 95.6,380.5" class="di"/>
<polygon points="104.8,374.5 108.7,378.4 104.8,382.3 100.9,378.4" class="di"/>
<polygon points="123.4,363.9 127.3,367.8 123.4,371.7 119.5,367.8" class="di"/>
<polygon points="98.5,362.6 102.4,366.5 98.5,370.4 94.6,366.5" class="di"/>
<polygon points="81.0,389.6 84.9,393.5 81.0,397.4 77.1,393.5" class="di"/>
<polygon points="90.0,376.1 93.9,380.0 90.0,383.9 86.1,380.0" class="di"/>
<polygon points="136.0,356.1 139.9,360.0 136.0,363.9 132.1,360.0" class="di"/>
<polygon points="133.5,358.1 137.4,362.0 133.5,365.9 129.6,362.0" class="di"/>
<polygon points="62.0,404.7 66.1,411.3 57.9,411.3" class="tr"/>
<polygon points="72.2,396.7 76.3,403.3 68.1,403.3" class="tr"/>
<polygon points="78.2,392.0 82.3,398.6 74.1,398.6" class="tr"/>
<polygon points="81.4,395.2 85.5,401.8 77.3,401.8" class="tr"/>
<polygon points="85.6,397.3 89.7,403.9 81.5,403.9" class="tr"/>
<polygon points="91.0,392.0 95.1,398.6 86.9,398.6" class="tr"/>
<polygon points="96.8,393.6 100.9,400.2 92.7,400.2" class="tr"/>
<polygon points="88.8,388.8 92.9,395.4 84.7,395.4" class="tr"/>
<polygon points="97.2,394.5 101.3,401.1 93.1,401.1" class="tr"/>
<polygon points="115.4,392.0 119.5,398.6 111.3,398.6" class="tr"/>
<polygon points="110.6,379.3 114.7,385.9 106.5,385.9" class="tr"/>
<polygon points="142.4,352.9 146.5,359.5 138.3,359.5" class="tr"/>
<polygon points="148.3,350.3 152.4,356.9 144.2,356.9" class="tr"/>
<polygon points="184.4,325.2 188.5,331.8 180.3,331.8" class="tr"/>
<polygon points="186.8,325.4 190.9,332.0 182.7,332.0" class="tr"/>
<polygon points="185.3,323.4 189.4,330.0 181.2,330.0" class="tr"/>
<circle cx="135.5" cy="293.3" r="3.6" class="ci"/>
<circle cx="130.5" cy="299.1" r="3.6" class="ci"/>
<circle cx="138.2" cy="303.6" r="3.6" class="ci"/>
<circle cx="179.2" cy="331.3" r="3.6" class="ci"/>
<circle cx="133.8" cy="358.3" r="3.6" class="ci"/>
<circle cx="131.0" cy="357.0" r="3.6" class="ci"/>
<polygon points="134.8,242.8 143.0,242.8 138.9,249.2" class="yt"/>
<polygon points="133.1,258.4 141.3,258.4 137.2,264.8" class="yt"/>
<polygon points="165.6,298.1 173.8,298.1 169.7,304.5" class="yt"/>
<polygon points="181.4,321.3 189.6,321.3 185.5,327.7" class="yt"/>
<polygon points="183.9,323.0 192.1,323.0 188.0,329.4" class="yt"/>
<polygon points="185.8,336.0 194.0,336.0 189.9,342.4" class="yt"/>
<polygon points="188.7,336.0 196.9,336.0 192.8,342.4" class="yt"/>
<polygon points="107.6,370.4 115.8,370.4 111.7,376.8" class="yt"/>
<polygon points="98.0,374.7 106.2,374.7 102.1,381.1" class="yt"/>
<polygon points="87.4,378.9 95.6,378.9 91.5,385.3" class="yt"/>
<polygon points="22.3,422.1 30.5,422.1 26.4,428.5" class="yt"/>
<polyline points="322.0,426.5 431.0,237.7 540.0,426.5" fill="none" stroke="#111" stroke-width="1.35"/>
<line x1="322.0" y1="426.5" x2="540.0" y2="426.5" stroke="#3a3a3a" stroke-width="2.2" />
<polyline points="334.9,406.1 333.1,407.6 335.1,408.7" fill="none" stroke="#111" stroke-width="1.0"/>
<polyline points="527.1,406.1 528.9,407.6 526.9,408.7" fill="none" stroke="#111" stroke-width="1.0"/>
<polyline points="342.3,423.5 343.8,425.5 345.3,423.5" fill="none" stroke="#111" stroke-width="1.0"/>
<polyline points="345.8,387.2 344.0,388.7 346.0,389.8" fill="none" stroke="#111" stroke-width="1.0"/>
<polyline points="516.2,387.2 518.0,388.7 516.0,389.8" fill="none" stroke="#111" stroke-width="1.0"/>
<polyline points="364.1,423.5 365.6,425.5 367.1,423.5" fill="none" stroke="#111" stroke-width="1.0"/>
<polyline points="356.7,368.4 354.9,369.9 356.9,371.0" fill="none" stroke="#111" stroke-width="1.0"/>
<polyline points="505.3,368.4 507.1,369.9 505.1,371.0" fill="none" stroke="#111" stroke-width="1.0"/>
<polyline points="385.9,423.5 387.4,425.5 388.9,423.5" fill="none" stroke="#111" stroke-width="1.0"/>
<polyline points="367.6,349.5 365.8,351.0 367.8,352.1" fill="none" stroke="#111" stroke-width="1.0"/>
<polyline points="494.4,349.5 496.2,351.0 494.2,352.1" fill="none" stroke="#111" stroke-width="1.0"/>
<polyline points="407.7,423.5 409.2,425.5 410.7,423.5" fill="none" stroke="#111" stroke-width="1.0"/>
<polyline points="378.5,330.6 376.7,332.1 378.7,333.2" fill="none" stroke="#111" stroke-width="1.0"/>
<polyline points="483.5,330.6 485.3,332.1 483.3,333.2" fill="none" stroke="#111" stroke-width="1.0"/>
<polyline points="429.5,423.5 431.0,425.5 432.5,423.5" fill="none" stroke="#111" stroke-width="1.0"/>
<polyline points="389.4,311.7 387.6,313.2 389.6,314.3" fill="none" stroke="#111" stroke-width="1.0"/>
<polyline points="472.6,311.7 474.4,313.2 472.4,314.3" fill="none" stroke="#111" stroke-width="1.0"/>
<polyline points="451.3,423.5 452.8,425.5 454.3,423.5" fill="none" stroke="#111" stroke-width="1.0"/>
<polyline points="400.3,292.8 398.5,294.3 400.5,295.4" fill="none" stroke="#111" stroke-width="1.0"/>
<polyline points="461.7,292.8 463.5,294.3 461.5,295.4" fill="none" stroke="#111" stroke-width="1.0"/>
<polyline points="473.1,423.5 474.6,425.5 476.1,423.5" fill="none" stroke="#111" stroke-width="1.0"/>
<polyline points="411.2,274.0 409.4,275.5 411.4,276.6" fill="none" stroke="#111" stroke-width="1.0"/>
<polyline points="450.8,274.0 452.6,275.5 450.6,276.6" fill="none" stroke="#111" stroke-width="1.0"/>
<polyline points="494.9,423.5 496.4,425.5 497.9,423.5" fill="none" stroke="#111" stroke-width="1.0"/>
<polyline points="422.1,255.1 420.3,256.6 422.3,257.7" fill="none" stroke="#111" stroke-width="1.0"/>
<polyline points="439.9,255.1 441.7,256.6 439.7,257.7" fill="none" stroke="#111" stroke-width="1.0"/>
<polyline points="516.7,423.5 518.2,425.5 519.7,423.5" fill="none" stroke="#111" stroke-width="1.0"/>
<ellipse cx="375.6" cy="246.7" rx="9.9" ry="9.15" fill="none" stroke="#111" stroke-width="1.3"/>
<text x="375.6" y="251.6" font-size="12.5" text-anchor="middle" font-weight="bold" style="stroke-width:0.45px" fill="#000">c</text>
<text x="430.9" y="234.0" font-size="10" text-anchor="middle" font-weight="bold" style="stroke-width:0.45px" fill="#000">A</text>
<text x="319.0" y="439.4" font-size="10" text-anchor="middle" font-weight="bold" style="stroke-width:0.45px" fill="#000">F</text>
<text x="540.4" y="439.3" font-size="10" text-anchor="middle" font-weight="bold" style="stroke-width:0.45px" fill="#000">M</text>
<line x1="469.5" y1="344.6" x2="492.7" y2="344.6" stroke="#4d4d4d" stroke-width="4.9" stroke-linecap="round"/>
<path d="M356.2,366.2 L384,366.2 L384,370 L357,370 Q355.2,368.1 356.2,366.2 Z" fill="#4a4a4a"/>
<ellipse cx="398.5" cy="416.0" rx="30" ry="2.4" fill="#555"/>
<ellipse cx="469.0" cy="402.0" rx="31" ry="2.6" fill="#555"/>
<ellipse cx="435.2" cy="315.8" rx="22.5" ry="15.5" transform="rotate(58 435.2 315.8)" fill="none" stroke="#777" stroke-width="1.0"/>
<line x1="430.2" y1="276.5" x2="434.3" y2="296.0" stroke="#000" stroke-width="1.7" stroke-dasharray="2.4 2.3"/>
<line x1="435.5" y1="337.8" x2="418.5" y2="373.5" stroke="#000" stroke-width="1.7" stroke-dasharray="2.4 2.3"/>
<polygon points="416.6,378.8 416.4,370.3 419.0,373.9 423.4,373.8" fill="#000"/>
<line x1="445.0" y1="341.5" x2="443.8" y2="372.5" stroke="#000" stroke-width="1.7" stroke-dasharray="2.4 2.3"/>
<polygon points="443.7,378.0 440.1,370.4 443.9,372.6 447.9,370.6" fill="#000"/>
<line x1="457.3" y1="334.5" x2="476.0" y2="351.5" stroke="#000" stroke-width="1.7" stroke-dasharray="2.4 2.3"/>
<polygon points="479.8,356.0 471.7,353.5 476.0,352.2 477.3,347.9" fill="#000"/>
<polygon points="429.2,266.0 433.3,271.4 430.0,270.3 427.2,272.5" fill="#000"/>
<text x="437.0" y="241.4" font-size="9.3" textLength="77.5" lengthAdjust="spacingAndGlyphs">kyanite, sillimanite</text>
<text x="402.9" y="262.7" font-size="9.3" textLength="70.0" lengthAdjust="spacingAndGlyphs">Advanced argillic</text>
<text x="435.4" y="275.5" font-size="9.3" textLength="8.5" lengthAdjust="spacingAndGlyphs">AI</text>
<text x="496.0" y="346.8" font-size="9.3" textLength="41.2" lengthAdjust="spacingAndGlyphs">Cordierite</text>
<text x="481.6" y="364.4" font-size="9.3" text-anchor="middle" textLength="12.5" lengthAdjust="spacingAndGlyphs">Mg</text>
<text x="464.0" y="376.6" font-size="9.3" textLength="34.2" lengthAdjust="spacingAndGlyphs">Chloritic</text>
<text x="447.5" y="373.7" font-size="9.3" textLength="5.6" lengthAdjust="spacingAndGlyphs">K</text>
<text x="434.4" y="385.7" font-size="9.3" textLength="32.4" lengthAdjust="spacingAndGlyphs">Sericitic</text>
<text x="406.3" y="378.2" font-size="9.3" textLength="11.0" lengthAdjust="spacingAndGlyphs">Fe-</text>
<text x="384.5" y="391.0" font-size="9.3" textLength="52.0" lengthAdjust="spacingAndGlyphs">Fe-alteration</text>
<text x="324.3" y="368.6" font-size="9.3" textLength="28.0" lengthAdjust="spacingAndGlyphs">Garnet</text>
<text x="367.9" y="410.9" font-size="9.3" textLength="61.8" lengthAdjust="spacingAndGlyphs">Orthopyroxene</text>
<text x="457.3" y="414.8" font-size="9.3" textLength="27.2" lengthAdjust="spacingAndGlyphs">Biotite</text>
<text x="282.8" y="408.2" font-size="9.3" textLength="44.7" lengthAdjust="spacingAndGlyphs">Magnetite,</text>
<text x="282.8" y="420.7" font-size="9.3" textLength="37.4" lengthAdjust="spacingAndGlyphs">Hematite</text>
<circle cx="431.0" cy="238.3" r="3.9" fill="#000"/>
<polygon points="348.5,407.9 352.6,414.5 344.4,414.5" fill="#ee1c24"/>
<polygon points="322.4,422.6 326.5,429.2 318.3,429.2" fill="#ee1c24"/>
<polygon points="326.0,422.8 330.1,429.4 321.9,429.4" fill="#ee1c24"/>
<polygon points="351.0,406.1 355.1,412.7 346.9,412.7" fill="#ee1c24"/>
<polygon points="381.4,372.2 385.5,378.8 377.3,378.8" class="tr"/>
<polygon points="390.4,374.5 394.5,381.1 386.3,381.1" class="tr"/>
<polygon points="400.8,375.2 404.9,381.8 396.7,381.8" class="tr"/>
<polygon points="407.5,375.2 411.6,381.8 403.4,381.8" class="tr"/>
<polygon points="376.2,387.2 380.3,393.8 372.1,393.8" class="tr"/>
<polygon points="365.8,390.9 369.9,397.5 361.7,397.5" class="tr"/>
<polygon points="366.5,394.6 370.6,401.2 362.4,401.2" class="tr"/>
<polygon points="344.2,402.1 348.3,408.7 340.1,408.7" class="tr"/>
<polygon points="348.6,406.5 352.7,413.1 344.5,413.1" class="tr"/>
<polygon points="350.1,408.0 354.2,414.6 346.0,414.6" class="tr"/>
<polygon points="385.1,402.8 389.2,409.4 381.0,409.4" class="tr"/>
<polygon points="384.4,408.8 388.5,415.4 380.3,415.4" class="tr"/>
<polygon points="367.3,418.4 371.4,425.0 363.2,425.0" class="tr"/>
<polygon points="333.5,420.2 337.6,426.8 329.4,426.8" class="tr"/>
<polygon points="376.8,386.1 380.9,392.7 372.7,392.7" class="tr"/>
<polygon points="410.9,415.1 415.0,421.7 406.8,421.7" class="tr"/>
<polygon points="416.9,415.6 421.0,422.2 412.8,422.2" class="tr"/>
<polygon points="433.3,420.6 437.4,427.2 429.2,427.2" class="tr"/>
<polygon points="352.0,406.6 356.1,413.2 347.9,413.2" class="tr"/>
<polygon points="347.0,409.6 351.1,416.2 342.9,416.2" class="tr"/>
<polygon points="344.9,403.5 349.0,410.1 340.8,410.1" class="tr"/>
<polygon points="429.1,265.0 433.0,268.9 429.1,272.8 425.2,268.9" class="di"/>
<polygon points="426.0,275.1 429.9,279.0 426.0,282.9 422.1,279.0" class="di"/>
<polygon points="420.3,294.6 424.2,298.5 420.3,302.4 416.4,298.5" class="di"/>
<polygon points="420.0,300.1 423.9,304.0 420.0,307.9 416.1,304.0" class="di"/>
<polygon points="412.4,309.2 416.3,313.1 412.4,317.0 408.5,313.1" class="di"/>
<polygon points="409.1,314.3 413.0,318.2 409.1,322.1 405.2,318.2" class="di"/>
<polygon points="400.0,317.9 403.9,321.8 400.0,325.7 396.1,321.8" class="di"/>
<polygon points="406.9,318.8 410.8,322.7 406.9,326.6 403.0,322.7" class="di"/>
<polygon points="424.0,321.2 427.9,325.1 424.0,329.0 420.1,325.1" class="di"/>
<polygon points="398.2,332.8 402.1,336.7 398.2,340.6 394.3,336.7" class="di"/>
<polygon points="395.1,337.0 399.0,340.9 395.1,344.8 391.2,340.9" class="di"/>
<polygon points="405.5,333.4 409.4,337.3 405.5,341.2 401.6,337.3" class="di"/>
<polygon points="410.9,337.0 414.8,340.9 410.9,344.8 407.0,340.9" class="di"/>
<polygon points="385.5,339.7 389.4,343.6 385.5,347.5 381.6,343.6" class="di"/>
<polygon points="392.4,344.6 396.3,348.5 392.4,352.4 388.5,348.5" class="di"/>
<polygon points="378.2,347.6 382.1,351.5 378.2,355.4 374.3,351.5" class="di"/>
<polygon points="413.1,347.0 417.0,350.9 413.1,354.8 409.2,350.9" class="di"/>
<polygon points="420.0,352.1 423.9,356.0 420.0,359.9 416.1,356.0" class="di"/>
<polygon points="377.3,359.7 381.2,363.6 377.3,367.5 373.4,363.6" class="di"/>
<polygon points="371.8,366.1 375.7,370.0 371.8,373.9 367.9,370.0" class="di"/>
<polygon points="374.7,368.0 378.6,371.9 374.7,375.8 370.8,371.9" class="di"/>
<polygon points="380.7,368.0 384.6,371.9 380.7,375.8 376.8,371.9" class="di"/>
<polygon points="384.4,369.5 388.3,373.4 384.4,377.3 380.5,373.4" class="di"/>
<polygon points="388.1,370.3 392.0,374.2 388.1,378.1 384.2,374.2" class="di"/>
<polygon points="393.3,378.5 397.2,382.4 393.3,386.3 389.4,382.4" class="di"/>
<polygon points="443.6,334.7 447.5,338.6 443.6,342.5 439.7,338.6" class="di"/>
<polygon points="445.0,337.5 448.9,341.4 445.0,345.3 441.1,341.4" class="di"/>
<polygon points="491.4,379.7 495.3,383.6 491.4,387.5 487.5,383.6" class="di"/>
<polygon points="419.5,352.9 423.4,356.8 419.5,360.7 415.6,356.8" class="di"/>
<polygon points="344.9,389.6 348.8,393.5 344.9,397.4 341.0,393.5" class="di"/>
<polygon points="344.9,394.8 348.8,398.7 344.9,402.6 341.0,398.7" class="di"/>
<polygon points="336.2,397.9 340.1,401.8 336.2,405.7 332.3,401.8" class="di"/>
<polygon points="338.4,401.6 342.3,405.5 338.4,409.4 334.5,405.5" class="di"/>
<polygon points="343.5,393.6 347.4,397.5 343.5,401.4 339.6,397.5" class="di"/>
<polygon points="341.3,411.0 345.2,414.9 341.3,418.8 337.4,414.9" class="di"/>
<polygon points="344.9,408.8 348.8,412.7 344.9,416.6 341.0,412.7" class="di"/>
<polygon points="356.8,400.8 360.7,404.7 356.8,408.6 352.9,404.7" class="di"/>
<polygon points="358.3,404.5 362.2,408.4 358.3,412.3 354.4,408.4" class="di"/>
<polygon points="362.0,397.8 365.9,401.7 362.0,405.6 358.1,401.7" class="di"/>
<polygon points="363.5,396.3 367.4,400.2 363.5,404.1 359.6,400.2" class="di"/>
<polygon points="340.1,412.7 344.0,416.6 340.1,420.5 336.2,416.6" class="di"/>
<polygon points="335.5,400.4 339.4,404.3 335.5,408.2 331.6,404.3" class="di"/>
<circle cx="417.6" cy="273.4" r="3.6" class="ci"/>
<circle cx="424.5" cy="272.2" r="3.6" class="ci"/>
<circle cx="429.6" cy="270.9" r="3.6" class="ci"/>
<circle cx="416.9" cy="287.4" r="3.6" class="ci"/>
<circle cx="416.4" cy="287.6" r="3.6" class="ci"/>
<circle cx="331.5" cy="411.0" r="3.6" class="ci"/>
<circle cx="321.0" cy="421.5" r="3.6" class="ci"/>
<polygon points="425.0,241.0 433.2,241.0 429.1,247.4" class="yt"/>
<polygon points="419.9,247.8 428.1,247.8 424.0,254.2" class="yt"/>
<polygon points="400.0,313.5 408.2,313.5 404.1,319.9" class="yt"/>
<polygon points="399.9,314.1 408.1,314.1 404.0,320.5" class="yt"/>
<polygon points="343.0,385.9 351.2,385.9 347.1,392.3" class="yt"/>
<polygon points="496.8,398.7 505.0,398.7 500.9,405.1" class="yt"/>
<polygon points="326.4,409.6 334.6,409.6 330.5,416.0" class="yt"/>
<polygon points="323.5,412.4 331.7,412.4 327.6,418.8" class="yt"/>
<polygon points="320.9,415.4 329.1,415.4 325.0,421.8" class="yt"/>
<polygon points="318.8,418.4 327.0,418.4 322.9,424.8" class="yt"/>
<polygon points="318.2,421.8 326.4,421.8 322.3,428.2" class="yt"/>
<circle cx="329.2" cy="425.0" r="3.9" fill="#000"/>
</svg>
</body></html>
